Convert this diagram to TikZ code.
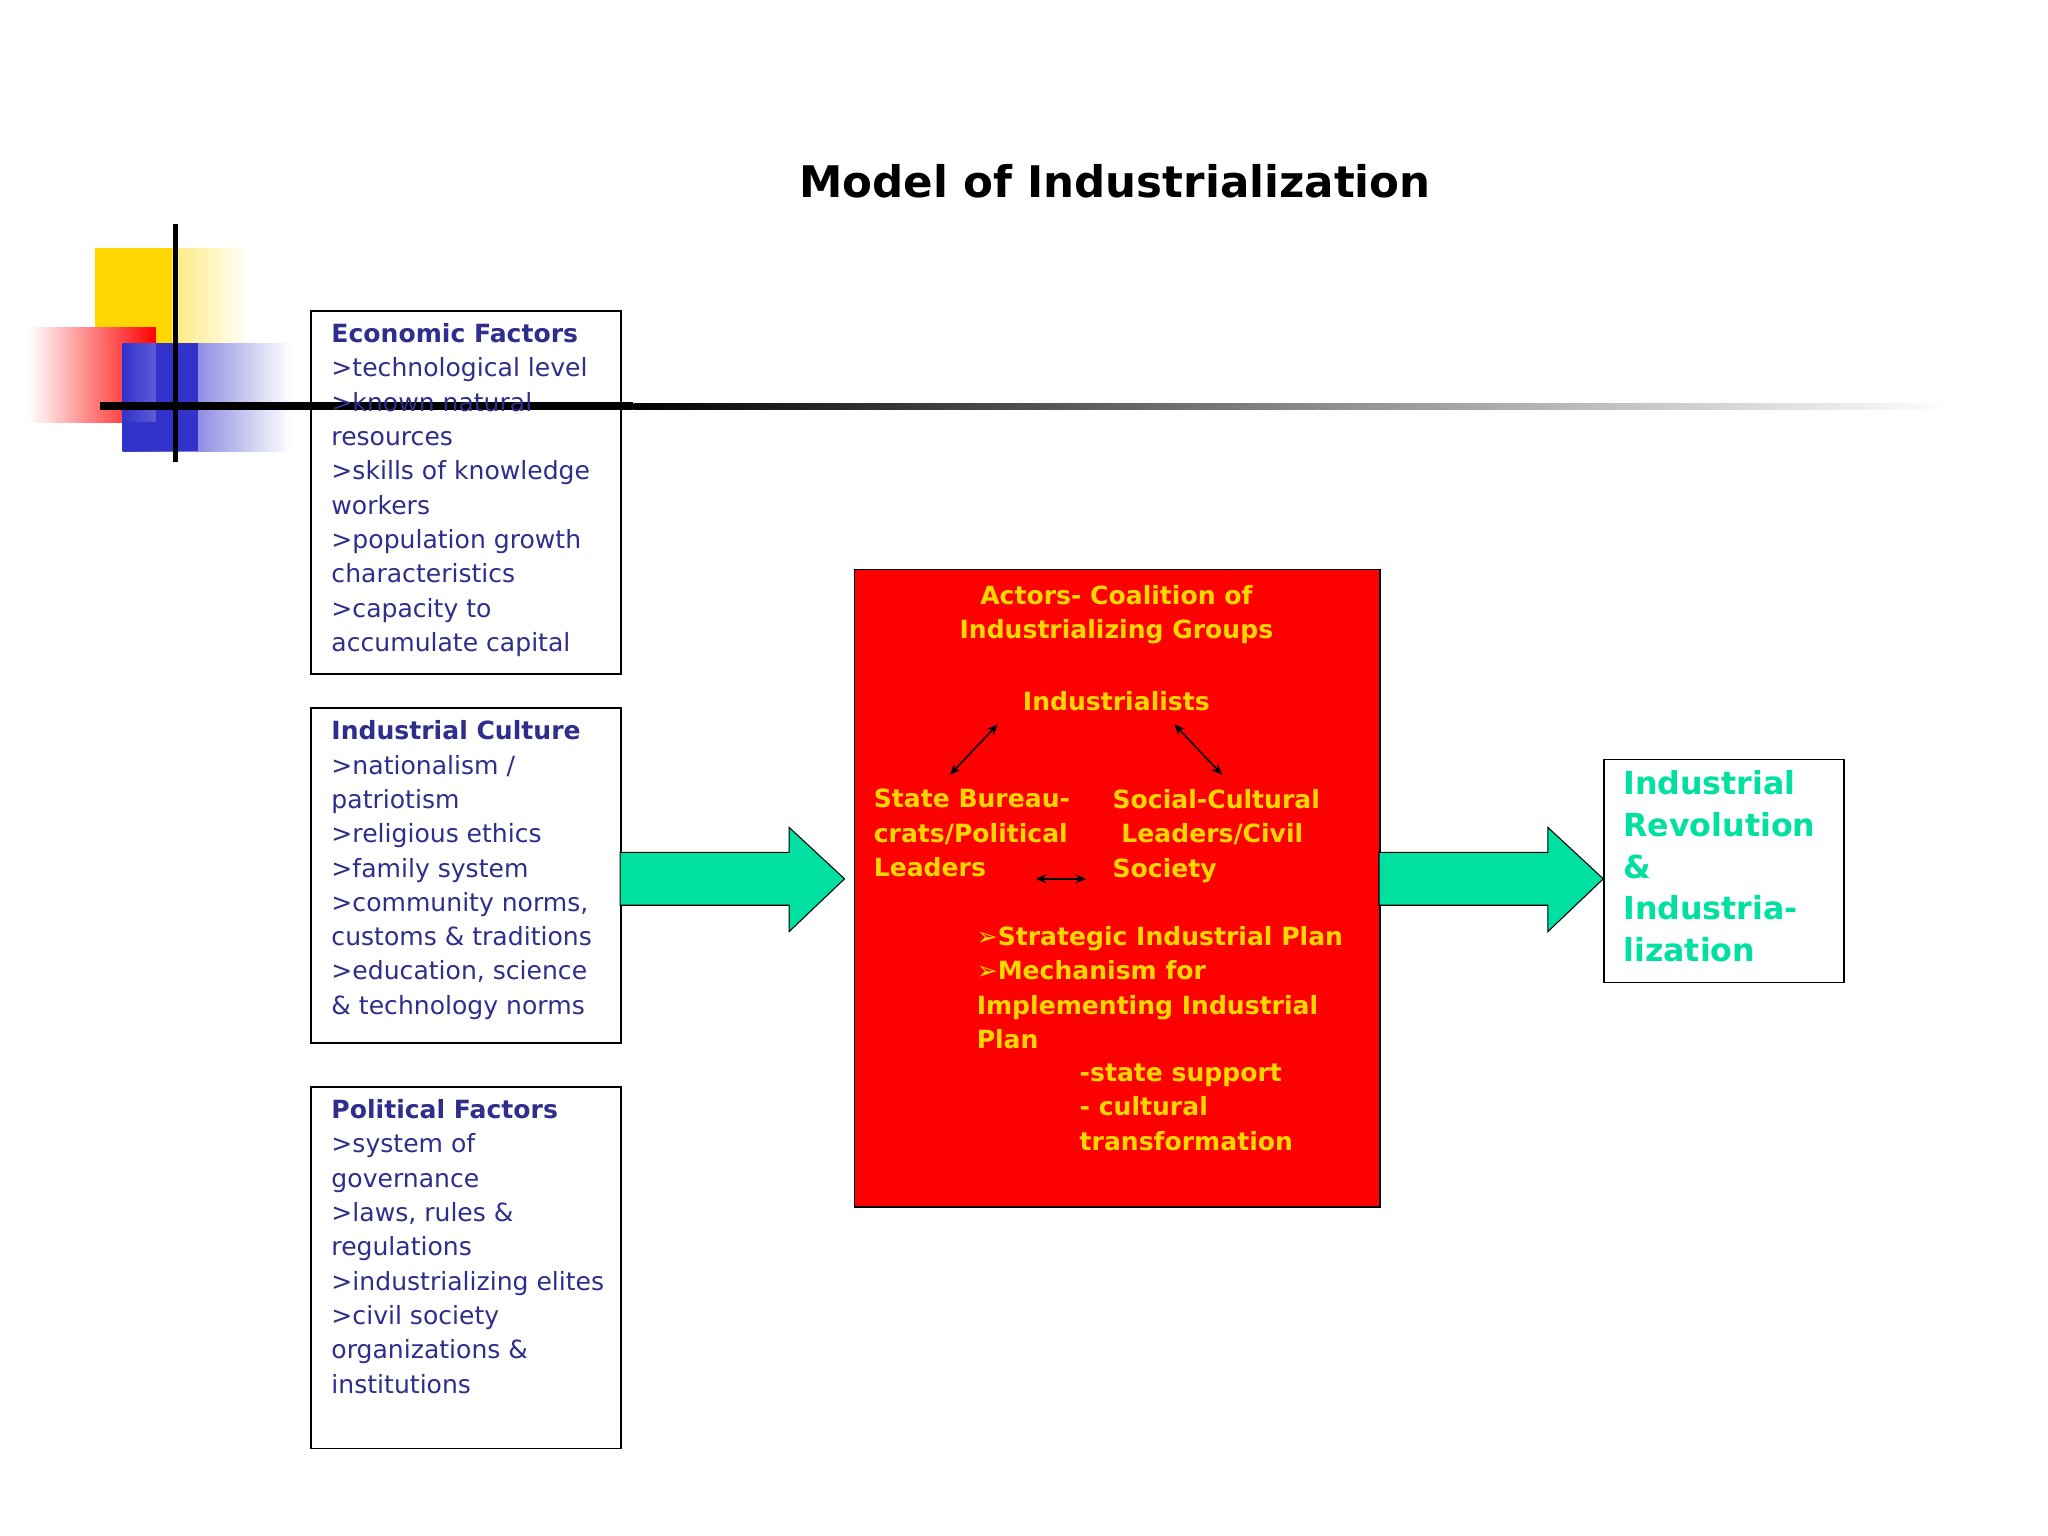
\documentclass[tikz,border=0pt]{standalone}
\usepackage{fontspec}
\setmainfont{DejaVu Sans}
\usetikzlibrary{shapes.arrows,arrows.meta}
\definecolor{navy}{RGB}{46,46,140}
\definecolor{ylw}{RGB}{255,215,0}
\definecolor{grn}{RGB}{0,224,160}
\definecolor{blu}{RGB}{51,51,204}
\begin{document}
\begin{tikzpicture}[x=1pt,y=-1pt,
  fbox/.style={draw=black,line width=1.2pt},
  btxt/.style={anchor=north west,align=left,inner sep=0pt,text=navy,font=\fontsize{19}{26}\selectfont},
  ytxt/.style={inner sep=0pt,text=ylw,font=\bfseries\fontsize{19}{26}\selectfont},
  tip/.style={{Stealth[length=8pt,width=7pt]}-{Stealth[length=8pt,width=7pt]},line width=1.2pt}]
\useasboundingbox (0,0) rectangle (1552,1164);
\fill[white] (0,0) rectangle (1552,1164);
% decoration
\shade[left color=ylw,right color=white] (72,188) rectangle (190,300);
\fill[ylw] (72,188) rectangle (130,300);
\shade[left color=white,right color=red] (22,248) rectangle (118,320);
\shade[left color=blu,right color=white] (93,260) rectangle (220,342);
\fill[blu] (118,260) rectangle (150,342);
\fill[blu] (93,320) rectangle (150,342);
\fill[black] (76,305) rectangle (480,311);
\shade[left color=black,right color=black!45] (480,306) rectangle (1000,310);
\shade[left color=black!45,right color=white] (1000,306) rectangle (1480,310);
\draw[line width=4pt] (133,170) -- (133,350);
% title
\node[font=\bfseries\fontsize{33}{40}\selectfont] (title) at (845,137) {Model of Industrialization};
% left boxes
\node[fbox,minimum width=235,minimum height=275,anchor=north west] (econ) at (235,235) {};
\node[btxt] (econt) at (251,245) {\textbf{Economic Factors}\\>technological level\\>known natural\\resources\\>skills of knowledge\\workers\\>population growth\\characteristics\\>capacity to\\accumulate capital};
\node[fbox,minimum width=235,minimum height=254,anchor=north west] (cult) at (235,536) {};
\node[btxt] (cultt) at (251,546) {\textbf{Industrial Culture}\\>nationalism /\\patriotism\\>religious ethics\\>family system\\>community norms,\\customs \& traditions\\>education, science\\\& technology norms};
\node[fbox,minimum width=235,minimum height=274,anchor=north west] (pol) at (235,823) {};
\node[btxt] (polt) at (251,833) {\textbf{Political Factors}\\>system of\\governance\\>laws, rules \&\\regulations\\>industrializing elites\\>civil society\\organizations \&\\institutions};
% central red box
\node[draw=black,line width=1.2pt,fill=red,minimum width=398,minimum height=483,anchor=north west] (actors) at (647,431) {};
\node[ytxt,align=center] (act) at (846,466) {Actors- Coalition of\\Industrializing Groups};
\node[ytxt] (ind) at (846,531) {Industrialists};
\node[ytxt,align=left,anchor=north west] (state) at (662,598) {State Bureau-\\crats/Political\\Leaders};
\node[ytxt,align=left,anchor=north west] (soc) at (843,598) {Social-Cultural\\\ Leaders/Civil\\Society};
\node[ytxt,align=left,anchor=north west] (plan) at (740,702) {➢Strategic Industrial Plan\\➢Mechanism for\\Implementing Industrial\\Plan};
\node[ytxt,align=left,anchor=north west] (sup) at (818,806) {-state support\\- cultural\\transformation};
\coordinate (a1) at (756,549); \coordinate (a2) at (720,587);
\coordinate (b1) at (890,549); \coordinate (b2) at (926,587);
\coordinate (c1) at (785,666); \coordinate (c2) at (823,666);
\draw[tip] (a1) -- (a2);
\draw[tip] (b1) -- (b2);
\draw[tip] (c1) -- (c2);
% right box
\node[fbox,minimum width=182,minimum height=169,anchor=north west] (rev) at (1215,575) {};
\node[anchor=north west,align=left,inner sep=0pt,text=grn,font=\bfseries\fontsize{24}{31.5}\selectfont] (revt) at (1230,584) {Industrial\\Revolution\\\&\\Industria-\\lization};
% block arrows
\fill[grn,draw=black,line width=0.8pt] (470,646) -- (598,646) -- (598,627) -- (640,666) -- (598,706) -- (598,686) -- (470,686) -- cycle;
\fill[grn,draw=black,line width=0.8pt] (1045,646) -- (1173,646) -- (1173,627) -- (1215,666) -- (1173,706) -- (1173,686) -- (1045,686) -- cycle;
\end{tikzpicture}
\end{document}
